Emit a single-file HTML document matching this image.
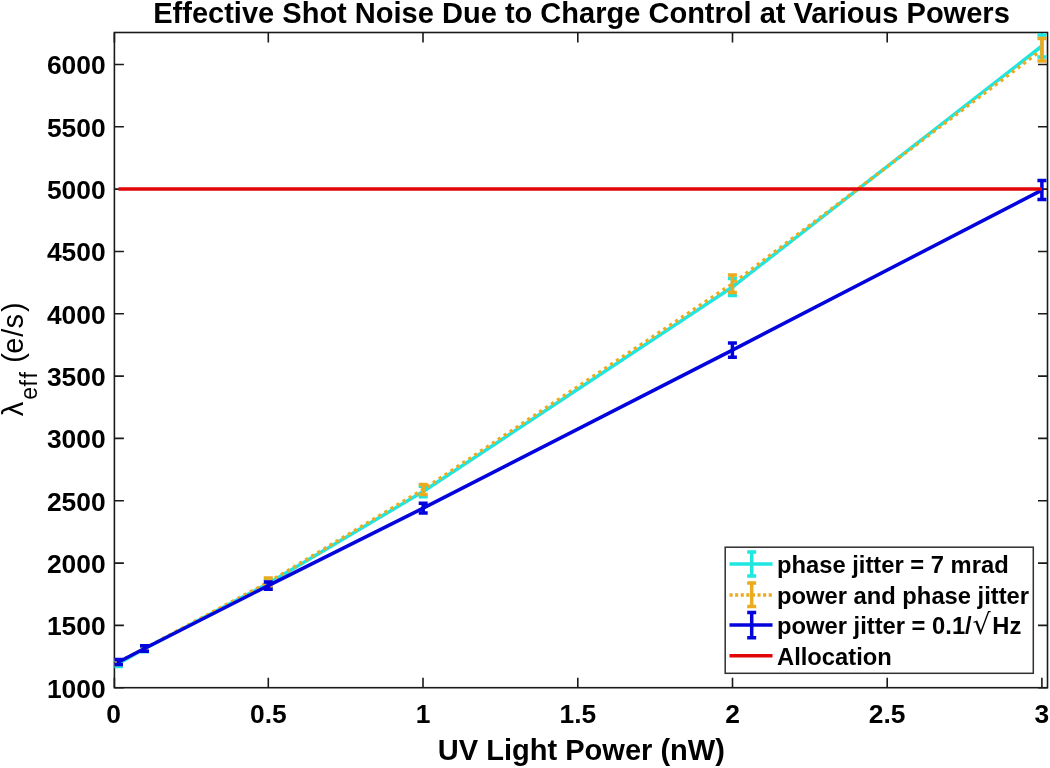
<!DOCTYPE html>
<html><head><meta charset="utf-8"><title>Effective Shot Noise</title>
<style>html,body{margin:0;padding:0;background:#fff;} svg{display:block;}</style>
</head><body>
<svg width="1050" height="768" viewBox="0 0 1050 768">
<rect width="1050" height="768" fill="#fff"/>
<defs><clipPath id="ax"><rect x="114.4" y="32.5" width="933.1" height="655.2"/></clipPath></defs>
<path d="M114.4,687.7v-10M114.4,32.5v10M268.3,687.7v-10M268.3,32.5v10M423.0,687.7v-10M423.0,32.5v10M577.8,687.7v-10M577.8,32.5v10M732.5,687.7v-10M732.5,32.5v10M887.2,687.7v-10M887.2,32.5v10M1041.9,687.7v-10M1041.9,32.5v10M114.4,687.7h9.5M1047.5,687.7h-9.5M114.4,625.4h9.5M1047.5,625.4h-9.5M114.4,563.1h9.5M1047.5,563.1h-9.5M114.4,500.7h9.5M1047.5,500.7h-9.5M114.4,438.4h9.5M1047.5,438.4h-9.5M114.4,376.1h9.5M1047.5,376.1h-9.5M114.4,313.8h9.5M1047.5,313.8h-9.5M114.4,251.5h9.5M1047.5,251.5h-9.5M114.4,189.1h9.5M1047.5,189.1h-9.5M114.4,126.8h9.5M1047.5,126.8h-9.5M114.4,64.5h9.5M1047.5,64.5h-9.5" stroke="#1a1a1a" stroke-width="1.6" fill="none"/>
<rect x="114.4" y="32.5" width="933.1" height="655.2" fill="none" stroke="#1a1a1a" stroke-width="1.6"/>
<g clip-path="url(#ax)">
<polyline points="118.5,663.5 144.5,648.8 268.3,583.5 423.2,491.5 732.4,287.0 1041.9,46.0" fill="none" stroke="#1ee6e0" stroke-width="3.5" stroke-linejoin="round" />
<path d="M118.5,660.5V666.5M114.0,660.5H123.0M114.0,666.5H123.0M144.5,645.9V651.7M140.0,645.9H149.0M140.0,651.7H149.0M268.3,579.5V587.5M263.8,579.5H272.8M263.8,587.5H272.8M423.2,486.3V496.7M418.7,486.3H427.7M418.7,496.7H427.7M732.4,278.5V295.5M727.9,278.5H736.9M727.9,295.5H736.9M1041.9,35.0V57.0M1037.4,35.0H1046.4M1037.4,57.0H1046.4" fill="none" stroke="#1ee6e0" stroke-width="3.5"/>
<polyline points="118.5,662.2 144.5,648.4 268.3,582.3 423.2,489.5 732.4,283.8 1041.9,49.7" fill="none" stroke="#eaab20" stroke-width="3.5" stroke-linejoin="round" stroke-dasharray="3.2 3.9"/>
<path d="M118.5,660.0V664.4M114.0,660.0H123.0M114.0,664.4H123.0M144.5,645.9V650.9M140.0,645.9H149.0M140.0,650.9H149.0M268.3,578.0V586.6M263.8,578.0H272.8M263.8,586.6H272.8M423.2,484.6V494.4M418.7,484.6H427.7M418.7,494.4H427.7M732.4,275.0V292.5M727.9,275.0H736.9M727.9,292.5H736.9M1041.9,38.4V61.0M1037.4,38.4H1046.4M1037.4,61.0H1046.4" fill="none" stroke="#eaab20" stroke-width="3.5"/>
<polyline points="118.5,662.0 144.5,648.5 268.3,585.6 423.2,508.1 732.4,350.1 1041.9,190.1" fill="none" stroke="#0303dd" stroke-width="3.5" stroke-linejoin="round" />
<path d="M118.5,659.6V664.4M114.0,659.6H123.0M114.0,664.4H123.0M144.5,645.8V651.2M140.0,645.8H149.0M140.0,651.2H149.0M268.3,582.0V589.2M263.8,582.0H272.8M263.8,589.2H272.8M423.2,503.2V512.9M418.7,503.2H427.7M418.7,512.9H427.7M732.4,343.0V357.2M727.9,343.0H736.9M727.9,357.2H736.9M1041.9,180.6V199.6M1037.4,180.6H1046.4M1037.4,199.6H1046.4" fill="none" stroke="#0303dd" stroke-width="3.5"/>
<line x1="118.5" y1="188.9" x2="1041.9" y2="188.9" stroke="#e10508" stroke-width="3.5"/>
</g>
<g font-family="Liberation Sans, Arial, Helvetica, sans-serif" font-weight="bold" font-size="26.4" fill="#000"><text x="113.6" y="723" text-anchor="middle">0</text><text x="268.3" y="723" text-anchor="middle">0.5</text><text x="423.0" y="723" text-anchor="middle">1</text><text x="577.8" y="723" text-anchor="middle">1.5</text><text x="732.5" y="723" text-anchor="middle">2</text><text x="887.2" y="723" text-anchor="middle">2.5</text><text x="1041.9" y="723" text-anchor="middle">3</text><text x="105.6" y="697.5" text-anchor="end">1000</text><text x="105.6" y="635.2" text-anchor="end">1500</text><text x="105.6" y="572.9" text-anchor="end">2000</text><text x="105.6" y="510.5" text-anchor="end">2500</text><text x="105.6" y="448.2" text-anchor="end">3000</text><text x="105.6" y="385.9" text-anchor="end">3500</text><text x="105.6" y="323.6" text-anchor="end">4000</text><text x="105.6" y="261.3" text-anchor="end">4500</text><text x="105.6" y="198.9" text-anchor="end">5000</text><text x="105.6" y="136.6" text-anchor="end">5500</text><text x="105.6" y="74.3" text-anchor="end">6000</text></g>
<text x="581.5" y="22.6" text-anchor="middle" font-family="Liberation Sans, Arial, Helvetica, sans-serif" font-weight="bold" font-size="29.04" fill="#000">Effective Shot Noise Due to Charge Control at Various Powers</text>
<text x="581.4" y="760.1" text-anchor="middle" font-family="Liberation Sans, Arial, Helvetica, sans-serif" font-weight="bold" font-size="29.04" fill="#000">UV Light Power (nW)</text>
<text transform="translate(22.7,417) rotate(-90)" font-family="Liberation Sans, Arial, Helvetica, sans-serif" font-size="29" fill="#000"><tspan x="0.8" y="0">λ</tspan><tspan font-size="23" x="17.2 30.6 38.6" y="14.1">eff</tspan><tspan x="54.3 63.3 80.3 88.5 105.1" y="0">(e/s)</tspan></text>
<rect x="725.2" y="547.2" width="308.1" height="126.1" fill="#fff" stroke="#303030" stroke-width="1.5"/>
<line x1="729.5" y1="564.0" x2="772.5" y2="564.0" stroke="#1ee6e0" stroke-width="3.5" />
<path d="M751.7,552.0V576.0M747.2,552.0h9.0M747.2,576.0h9.0" stroke="#1ee6e0" stroke-width="3.5" fill="none"/>
<text x="777.0" y="572.7" font-family="Liberation Sans, Arial, Helvetica, sans-serif" font-weight="bold" font-size="23.76" fill="#000">phase jitter = 7 mrad</text>
<line x1="729.5" y1="594.9" x2="772.5" y2="594.9" stroke="#eaab20" stroke-width="3.5" stroke-dasharray="3.1 2.5"/>
<path d="M751.7,583.1V606.6M747.2,583.1h9.0M747.2,606.6h9.0" stroke="#eaab20" stroke-width="3.5" fill="none"/>
<text x="777.0" y="603.6" font-family="Liberation Sans, Arial, Helvetica, sans-serif" font-weight="bold" font-size="23.76" fill="#000">power and phase jitter</text>
<line x1="729.5" y1="625.1" x2="772.5" y2="625.1" stroke="#0303dd" stroke-width="3.5" />
<path d="M751.7,612.5V637.7M747.2,612.5h9.0M747.2,637.7h9.0" stroke="#0303dd" stroke-width="3.5" fill="none"/>
<text x="777.0" y="633.8" font-family="Liberation Sans, Arial, Helvetica, sans-serif" font-weight="bold" font-size="23.76" fill="#000">power jitter = 0.1/<tspan font-family="DejaVu Sans" font-weight="normal" font-size="28.5" dx="0.8">√</tspan><tspan dx="1.6">Hz</tspan></text>
<line x1="729.5" y1="655.8" x2="772.5" y2="655.8" stroke="#e10508" stroke-width="3.5" />
<text x="777.0" y="664.5" font-family="Liberation Sans, Arial, Helvetica, sans-serif" font-weight="bold" font-size="23.76" fill="#000">Allocation</text>
</svg>
</body></html>
